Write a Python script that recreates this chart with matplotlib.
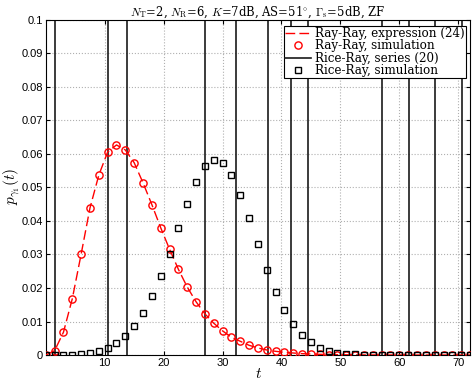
import numpy as np
import matplotlib
matplotlib.use("Agg")
import matplotlib.pyplot as plt

# ---- data ----
t = np.arange(0, 72.01, 1.5)

ray_sim = [0.0, 0.0013, 0.0068, 0.0168, 0.0301, 0.0439, 0.0537, 0.0606, 0.0627,
           0.0612, 0.0574, 0.0514, 0.0449, 0.0380, 0.0316, 0.0256, 0.0203, 0.0159,
           0.0123, 0.0095, 0.0072, 0.0053, 0.0041, 0.0029, 0.0021, 0.0015, 0.0011,
           0.0008, 0.0006, 0.0004, 0.0003, 0.0002, 0.00015, 0.0001, 0.00007, 0.00005,
           0.00003, 0.00002, 0.00001, 0.00001, 0.0, 0.0, 0.0, 0.0, 0.0, 0.0, 0.0, 0.0, 0.0]
ray_expr = list(ray_sim)

rice_sim = [0.0, 0.0, 0.0, 0.00005, 0.0002, 0.0006, 0.0011, 0.0021, 0.0036, 0.0058,
            0.0087, 0.0125, 0.0175, 0.0236, 0.0301, 0.0380, 0.0451, 0.0516, 0.0563,
            0.0582, 0.0572, 0.0538, 0.0477, 0.0408, 0.0332, 0.0255, 0.0189, 0.0134,
            0.0093, 0.0059, 0.0038, 0.0022, 0.0012, 0.0007, 0.0003, 0.0002, 0.0001,
            0.0, 0.0, 0.0, 0.0, 0.0, 0.0, 0.0, 0.0, 0.0, 0.0, 0.0, 0.0]

# positions where the series (20) diverges (drawn as vertical spikes)
series_pole_t = [1.5, 10.5, 13.7, 27.0, 32.2, 37.7, 41.7, 44.5, 57.0, 61.6, 66.0, 70.7]

xticks = [10, 20, 30, 40, 50, 60, 70]
yticks = [0, 0.01, 0.02, 0.03, 0.04, 0.05, 0.06, 0.07, 0.08, 0.09, 0.1]
ytick_labels = ["0", "0.01", "0.02", "0.03", "0.04", "0.05", "0.06", "0.07", "0.08", "0.09", "0.1"]

labels = ["Ray-Ray, expression (24)", "Ray-Ray, simulation",
          "Rice-Ray, series (20)", "Rice-Ray, simulation"]
title = r"$N_{\rm T}$=2, $N_{\rm R}$=6, $K$=7dB, AS=51$^{\circ}$, $\Gamma_{\rm s}$=5dB, ZF"

# ---- plot ----
plt.rcParams["mathtext.fontset"] = "cm"
W, H = 474, 383
fig = plt.figure(figsize=(W / 100, H / 100), dpi=100)
ax = fig.add_axes([0.0966, 0.0731, 0.8950, 0.8747])

ylo, yhi = 0, 0.1
ax.set_xlim(0, 72)
ax.set_ylim(ylo, yhi)

ax.grid(True, color="#b0b0b0", linestyle=":", linewidth=0.8)
ax.set_axisbelow(True)

l1, = ax.plot(t, ray_expr, color="red", linestyle=(0, (7, 3)), linewidth=1.0,
              label=labels[0], zorder=3)
l2, = ax.plot(t, ray_sim, linestyle="none", marker="o", markersize=5.2,
              markerfacecolor="none", markeredgecolor="red", markeredgewidth=1.0,
              label=labels[1], zorder=4)

sx, sy = [], []
for p in series_pole_t:
    sx += [p, p, np.nan]
    sy += [ylo, yhi, np.nan]
l3, = ax.plot(sx, sy, color="#1a1a1a", linewidth=1.2, label=labels[2], zorder=2)

l4, = ax.plot(t, rice_sim, linestyle="none", marker="s", markersize=4.3,
              markerfacecolor="none", markeredgecolor="black", markeredgewidth=1.0,
              label=labels[3], zorder=4)

ax.set_xticks(xticks)
ax.set_yticks(yticks)
ax.set_yticklabels(ytick_labels)
ax.tick_params(direction="in", length=3, top=True, right=True, labelsize=8, pad=2)
for lab in ax.get_xticklabels() + ax.get_yticklabels():
    lab.set_fontfamily("Liberation Sans")
for s in ax.spines.values():
    s.set_linewidth(0.8)

fig.text(259 / W, 1 - 374 / H, r"$t$", fontsize=11, ha="center", va="center")
fig.text(12 / W, 1 - 186 / H, r"$p_{\gamma_1}(t)$", fontsize=11,
         ha="center", va="center", rotation=90)
ax.set_title(title, fontsize=8.4, family="DejaVu Serif", pad=3)

leg = ax.legend(handles=[l1, l2, l3, l4], loc="upper right",
                bbox_to_anchor=(0.995, 0.99),
                prop={"family": "DejaVu Serif", "size": 8.6},
                frameon=True, fancybox=False, framealpha=1, edgecolor="black",
                borderpad=0.1, labelspacing=-0.05, handlelength=2.2,
                handletextpad=0.3, borderaxespad=0.2)
leg.get_frame().set_linewidth(0.8)

fig.savefig("out.png", dpi=100)
